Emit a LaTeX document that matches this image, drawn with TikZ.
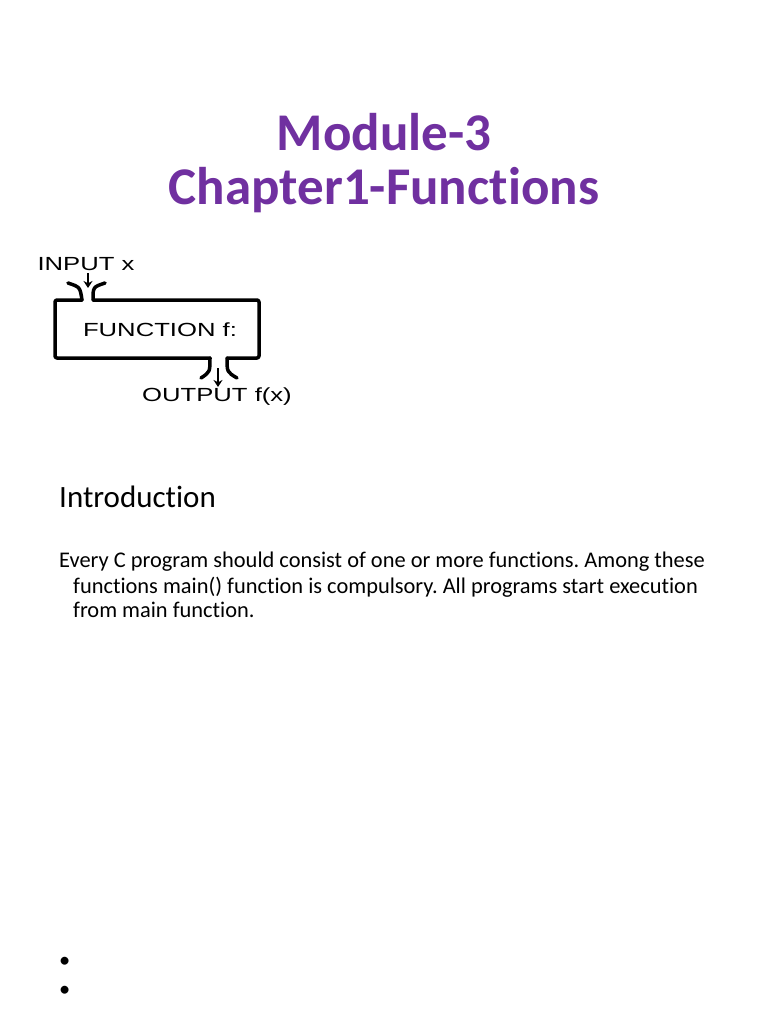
\documentclass[tikz,border=0pt]{standalone}
\usepackage{fontspec}
\usetikzlibrary{arrows.meta}
\setmainfont{Carlito}[Ligatures=NoCommon]
\newfontfamily\diagfont{Liberation Sans}
\definecolor{ttl}{HTML}{7030A0}
\frenchspacing
\begin{document}
\begin{tikzpicture}[x=1pt,y=-1pt,
  title/.style={text=ttl,font=\fontsize{53}{60}\selectfont\bfseries},
  diag/.style={font=\diagfont\fontsize{19}{21}\selectfont,xscale=1.35},
  body/.style={font=\fontsize{22.4}{26}\selectfont,anchor=west,inner sep=0},
  wall/.style={line width=3.5pt,line cap=round,line join=round},
  arr/.style={line width=1.2pt,-{Stealth[length=7pt,width=9pt]}}]
\useasboundingbox[fill=white] (0,0) rectangle (768,1024);
\node[title] (t1) at (384,132) {Module-3};
\node[title] (t2) at (384,190) {Chapter1-Functions};
% diagram
\node[diag] (in) at (86,264) {INPUT x};
\node[diag] (fn) at (160,330) {FUNCTION f:};
\node[diag] (out) at (217,397) {OUTPUT f(x)};
\draw[wall,rounded corners=2pt] (82,300) -- (55,300) -- (55,358) -- (210,358);
\draw[wall,rounded corners=2pt] (227,358) -- (259,358) -- (259,300) -- (93,300);
\draw[wall] (68,283) .. controls (80,287) .. (82,300);
\draw[wall] (105,283) .. controls (93,287) .. (93,300);
\draw[wall] (210,358) .. controls (210,372) .. (201,378);
\draw[wall] (227,358) .. controls (227,372) .. (237,378);
\coordinate (a1) at (88,273);
\coordinate (a2) at (88,288);
\draw[arr] (a1) -- (a2);
\coordinate (b1) at (218,368);
\coordinate (b2) at (218,387);
\draw[arr] (b1) -- (b2);
% text
\node[body,font=\fontsize{31}{34}\selectfont] (intro) at (59,497) {Introduction};
\node[body] (l1) at (59,562) {Every C program should consist of one or more functions. Among these};
\node[body] (l2) at (73,587) {functions main() function is compulsory. All programs start execution};
\node[body] (l3) at (73,610) {from main function.};
\node[body] (b1n) at (59,962) {\textbullet};
\node[body] (b2n) at (59,991) {\textbullet};
\end{tikzpicture}
\end{document}
